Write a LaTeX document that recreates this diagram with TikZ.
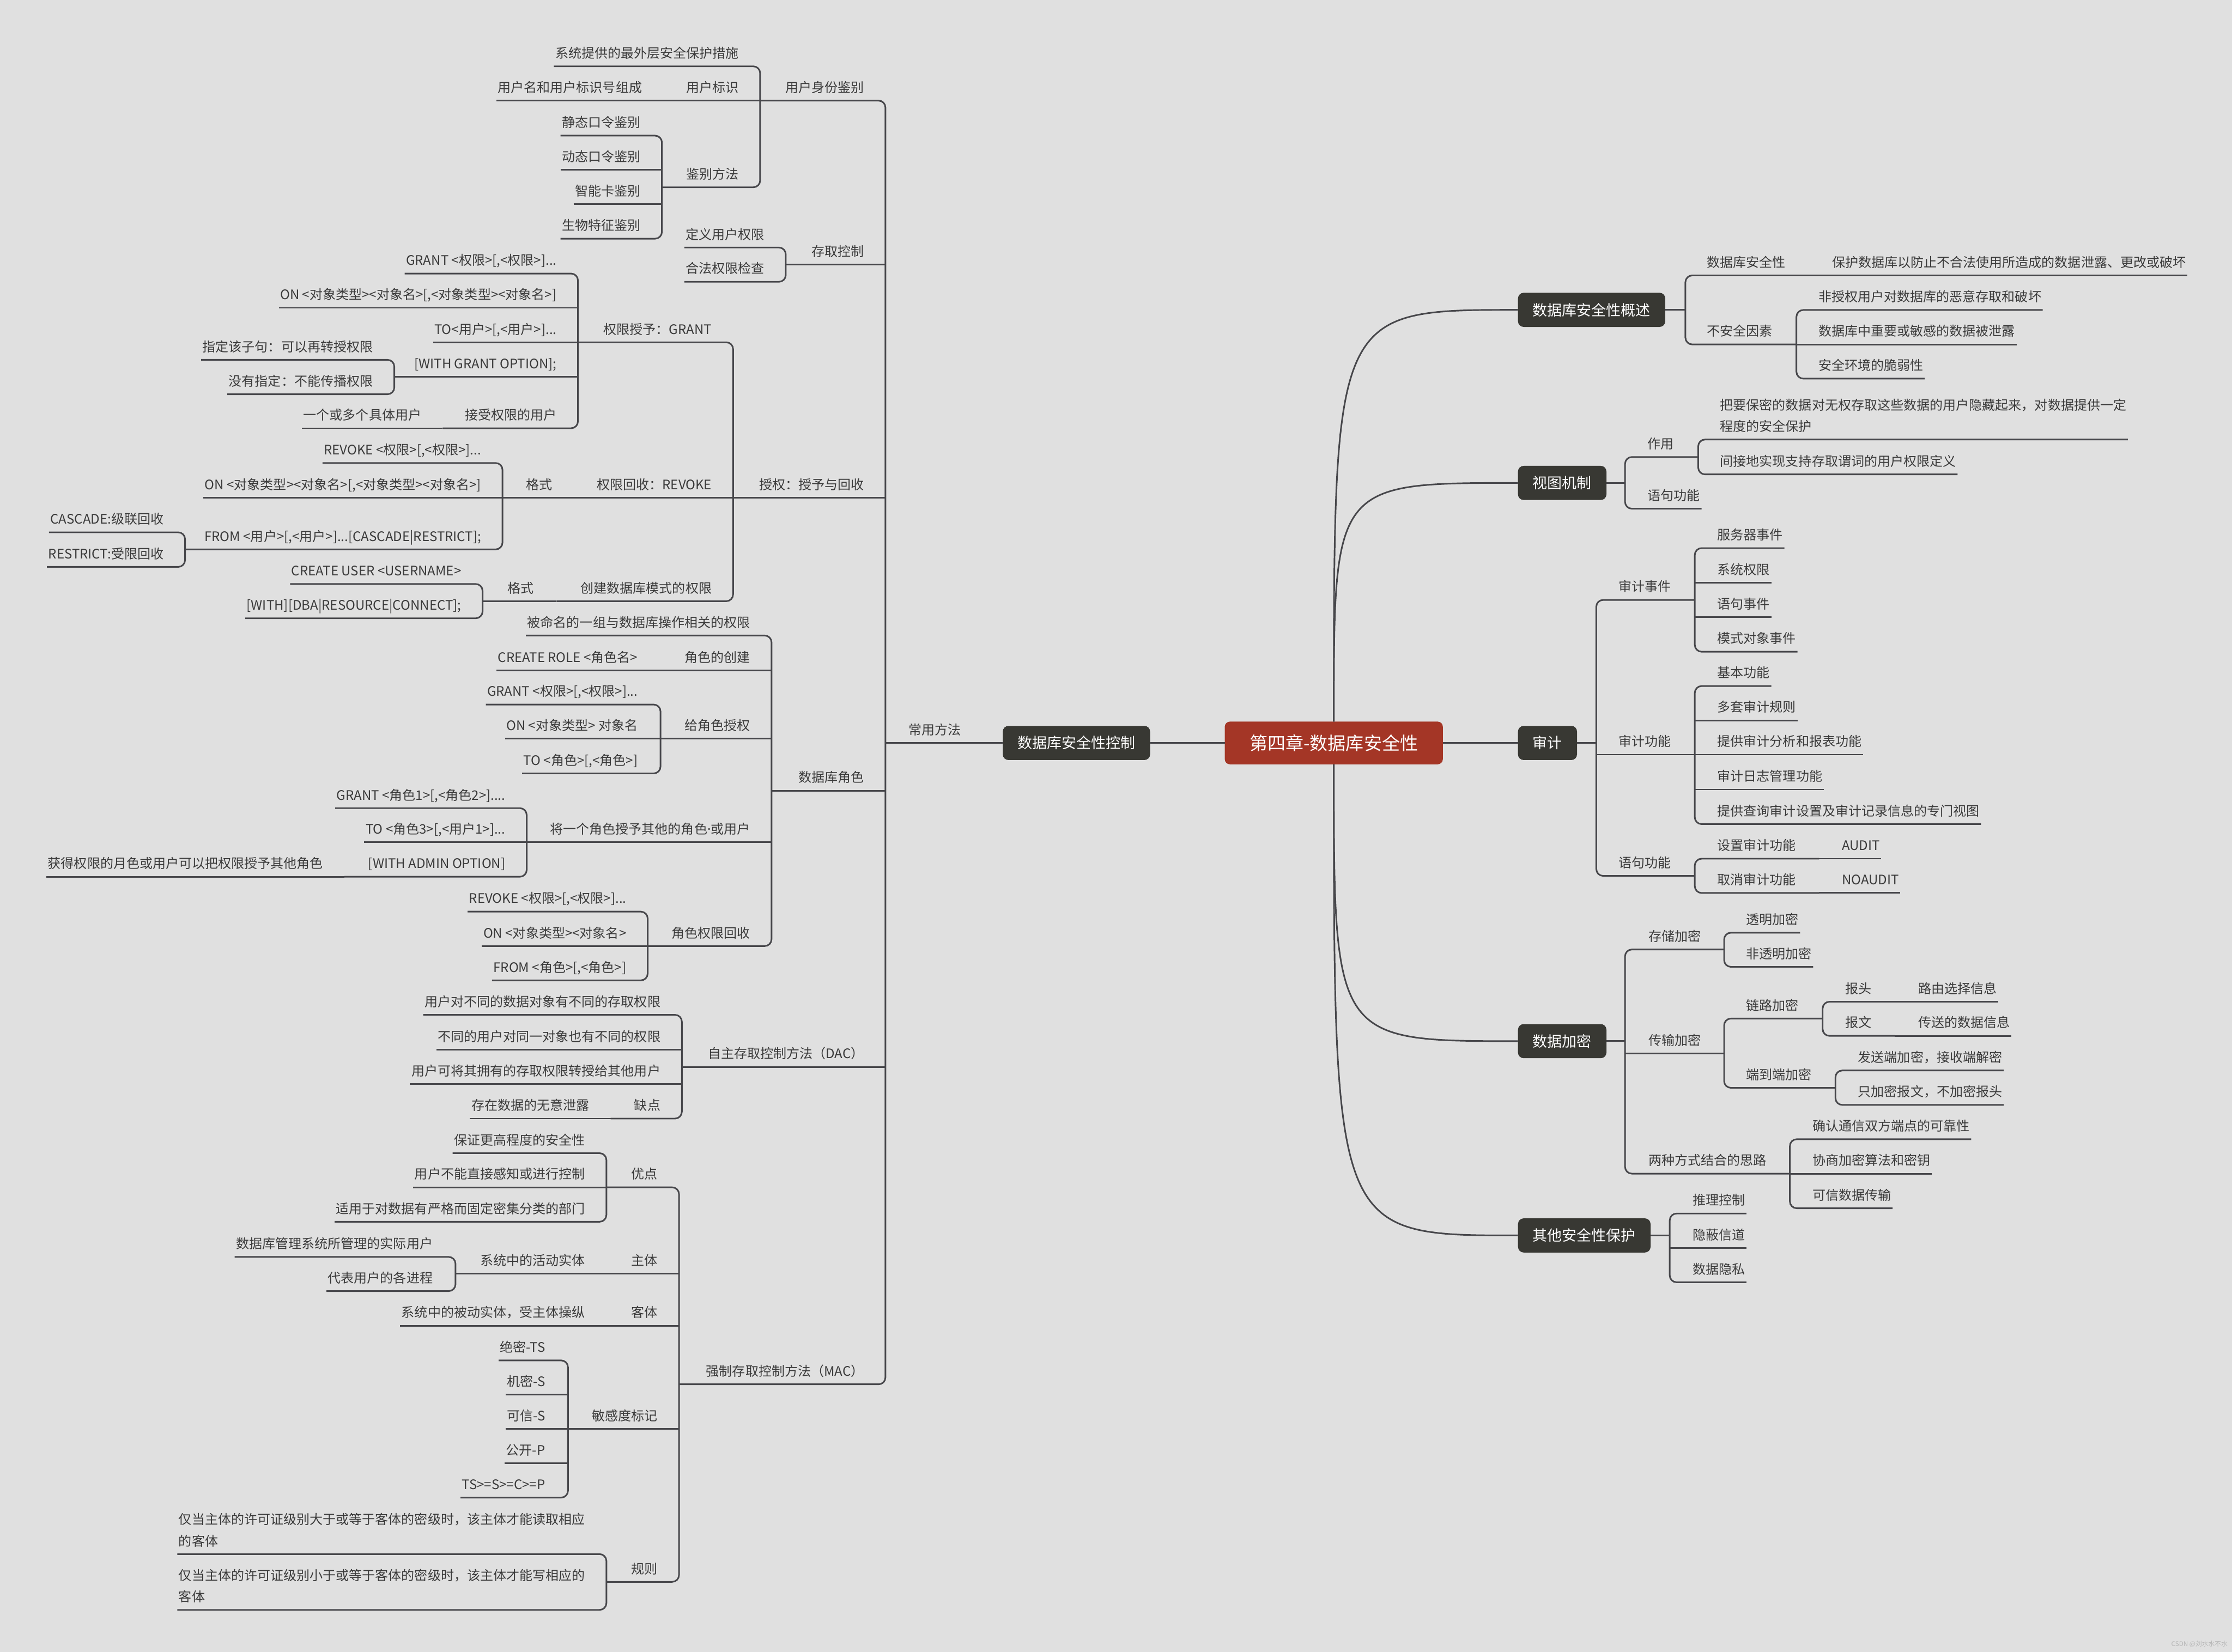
\documentclass[tikz,border=0pt]{standalone}
\usepackage{fontspec}
\setmainfont{Noto Sans CJK SC}
\newfontfamily\latinfont{Noto Sans}
\usepackage{xcolor}

\definecolor{bggray}{HTML}{E0E0E0}
\definecolor{linegray}{HTML}{47474B}
\definecolor{inkgray}{HTML}{3A3A3A}
\definecolor{topicgray}{HTML}{383833}
\definecolor{titlered}{HTML}{A43626}
\definecolor{wmgray}{HTML}{B5B5B5}

\begin{document}
\begin{tikzpicture}[
    x=0.05cm, y=-0.05cm,
    title/.style={rectangle, fill=titlered, rounded corners=0.18cm, text=white, font=\fontsize{18}{20}\selectfont, minimum height=1.5cm, minimum width=7.66cm, inner sep=0pt, outer sep=0pt},
    topic/.style={rectangle, fill=topicgray, rounded corners=0.2cm, text=white, font=\fontsize{14.7}{17}\selectfont, minimum height=1.2cm, inner xsep=0.52cm, inner ysep=0pt, outer sep=0pt},
    lt/.style={anchor=south east, text=inkgray, font=\fontsize{13.1}{21.3}\selectfont, inner xsep=0.05cm, inner ysep=0pt, outer sep=0pt, text height=10pt, text depth=8.3pt},
    rt/.style={lt, anchor=south west},
    br/.style={draw=linegray, line width=1.6pt, rounded corners=0.24cm},
    lk/.style={draw=linegray, line width=1.6pt}
]
    \useasboundingbox (0,0) rectangle (1568,1160.6);
    \fill[bggray] (0,0) rectangle (1568,1160.6);

    % Centre and main topics
    \node[title] (root) at (937,522) {第四章-数据库安全性};
    \node[topic] (ctrl) at (756.2,522) {数据库安全性控制};
    \node[topic, anchor=west] (ov) at (1066.4,217.7) {数据库安全性概述};
    \node[topic, anchor=west] (view) at (1066.4,339.3) {视图机制};
    \node[topic, anchor=west] (audit) at (1066.4,522) {审计};
    \node[topic, anchor=west] (enc) at (1066.4,731.5) {数据加密};
    \node[topic, anchor=west] (other) at (1066.4,868) {其他安全性保护};

    \draw[lk] (root.west) -- (ctrl.east);
    \draw[lk] (root.east) -- (audit.west);
    \draw[lk] (root.north) .. controls (root.north |- ov.west) .. (ov.west);
    \draw[lk] (root.north) .. controls (root.north |- view.west) .. (view.west);
    \draw[lk] (root.south) .. controls (root.south |- enc.west) .. (enc.west);
    \draw[lk] (root.south) .. controls (root.south |- other.west) .. (other.west);

    % Left: common methods
    \node[lt] (cyff) at (676,522) {常用方法};
    \coordinate (bcyff) at (622,522);
    \node[lt] (sfjb) at (608,70.7) {用户身份鉴别};
    \node[lt] (cqkz) at (608,185.8) {存取控制};
    \node[lt] (sq) at (608,349.6) {授权：授予与回收};
    \node[lt] (role) at (608,555.5) {数据库角色};
    \node[lt] (dac) at (608,749.6) {自主存取控制方法（DAC）};
    \node[lt] (mac) at (608,972.6) {强制存取控制方法（MAC）};
    \coordinate (bsfjb) at (534,70.7);
    \coordinate (bcqkz) at (552,185.8);
    \coordinate (bsq) at (515,349.6);
    \coordinate (brole) at (542,555.5);
    \coordinate (bdac) at (479,749.6);
    \coordinate (bmac) at (477,972.6);

    \draw[br] (bcyff) -- (ctrl.west);
    \draw[br] (bsfjb) -- (bcyff |- sfjb.south) -- (bcyff |- mac.south) -- (bmac);
    \draw[br] (bcqkz) -- (bcyff |- cqkz.south);
    \draw[br] (bsq) -- (bcyff |- sq.south);
    \draw[br] (brole) -- (bcyff |- role.south);
    \draw[br] (bdac) -- (bcyff |- dac.south);

    % User identification
    \node[lt] (xtbh) at (520,46.6) {系统提供的最外层安全保护措施};
    \node[lt] (yhbs) at (520,70.7) {用户标识};
    \node[lt] (jbff) at (520,131.6) {鉴别方法};
    \coordinate (byhbs) at (466,70.7);
    \coordinate (bjbff) at (465,131.6);
    \node[lt] (yhzc) at (452,70.7) {用户名和用户标识号组成};
    \node[lt] (jtkl) at (451,95.3) {静态口令鉴别};
    \node[lt] (dtkl) at (451,119.4) {动态口令鉴别};
    \node[lt] (znk) at (451,143.5) {智能卡鉴别};
    \node[lt] (swtz) at (451,167.7) {生物特征鉴别};

    \draw[br] (xtbh.south west) -- (bsfjb |- xtbh.south) -- (bsfjb |- jbff.south) -- (bjbff);
    \draw[br] (byhbs) -- (bsfjb);
    \draw[br] (yhzc.south west) -- (byhbs);
    \draw[br] (jtkl.south west) -- (bjbff |- jtkl.south) -- (bjbff |- swtz.south) -- (swtz.south west);
    \draw[br] (dtkl.south west) -- (bjbff |- dtkl.south);
    \draw[br] (znk.south west) -- (bjbff |- znk.south);

    % Access control
    \node[lt] (dyqx) at (538,173.9) {定义用户权限};
    \node[lt] (hfjc) at (538,198) {合法权限检查};
    \draw[br] (dyqx.south west) -- (bcqkz |- dyqx.south) -- (bcqkz |- hfjc.south) -- (hfjc.south west);

    % Grant and revoke
    \node[lt] (grant) at (501,240.5) {权限授予：GRANT};
    \node[lt] (revoke) at (501,349.6) {权限回收：REVOKE};
    \node[lt] (cjms) at (501,422.4) {创建数据库模式的权限};
    \coordinate (bgrant) at (406,240.5);
    \coordinate (brevoke) at (404,349.6);
    \coordinate (bcjms) at (391,422.4);
    \draw[br] (bgrant) -- (bsq |- grant.south) -- (bsq |- cjms.south) -- (bcjms);
    \draw[br] (brevoke) -- (bsq);

    \node[lt] (g1) at (392,192.2) {GRANT <权限>[,<权限>]...};
    \node[lt] (g2) at (392,216.3) {ON <对象类型><对象名>[,<对象类型><对象名>]};
    \node[lt] (g3) at (392,240.5) {TO<用户>[,<用户>]...};
    \node[lt] (g4) at (392,264.7) {[WITH GRANT OPTION];};
    \node[lt] (g5) at (392,300.9) {接受权限的用户};
    \coordinate (bg4) at (277,264.7);
    \coordinate (bg5) at (311,300.9);
    \node[lt] (g4a) at (263,252.8) {指定该子句：可以再转授权限};
    \node[lt] (g4b) at (263,277) {没有指定：不能传播权限};
    \node[lt] (g5a) at (297,300.9) {一个或多个具体用户};

    \draw[br] (g1.south west) -- (bgrant |- g1.south) -- (bgrant |- g5.south) -- (bg5);
    \draw[br] (g2.south west) -- (bgrant |- g2.south);
    \draw[br] (g3.south west) -- (bgrant);
    \draw[br] (bg4) -- (bgrant |- g4.south);
    \draw[br] (g4a.south west) -- (bg4 |- g4a.south) -- (bg4 |- g4b.south) -- (g4b.south west);
    \draw[br] (g5a.south west) -- (bg5);

    \node[lt] (rfmt) at (389,349.6) {格式};
    \coordinate (brfmt) at (353,349.6);
    \node[lt] (r1) at (339,325.3) {REVOKE <权限>[,<权限>]...};
    \node[lt] (r2) at (339,349.6) {ON <对象类型><对象名>[,<对象类型><对象名>]};
    \node[lt] (r3) at (339,386) {FROM <用户>[,<用户>]...[CASCADE|RESTRICT];};
    \coordinate (br3) at (130,386);
    \node[lt] (r3a) at (116,374) {CASCADE:级联回收};
    \node[lt] (r3b) at (116,398.3) {RESTRICT:受限回收};

    \draw[br] (brfmt) -- (brevoke);
    \draw[br] (r1.south west) -- (brfmt |- r1.south) -- (brfmt |- r3.south) -- (br3);
    \draw[br] (r2.south west) -- (brfmt);
    \draw[br] (r3a.south west) -- (br3 |- r3a.south) -- (br3 |- r3b.south) -- (r3b.south west);

    \node[lt] (cfmt) at (376,422.4) {格式};
    \coordinate (bcfmt) at (339,422.4);
    \node[lt] (cu1) at (325,410.3) {CREATE USER <USERNAME>};
    \node[lt] (cu2) at (325,434.4) {[WITH][DBA|RESOURCE|CONNECT];};
    \draw[br] (bcfmt) -- (bcjms);
    \draw[br] (cu1.south west) -- (bcfmt |- cu1.south) -- (bcfmt |- cu2.south) -- (cu2.south west);

    % Database roles
    \node[lt] (rl1) at (528,446.5) {被命名的一组与数据库操作相关的权限};
    \node[lt] (rl2) at (528,471) {角色的创建};
    \node[lt] (rl3) at (528,519) {给角色授权};
    \node[lt] (rl4) at (528,591.8) {将一个角色授予其他的角色{\latinfont ·}或用户};
    \node[lt] (rl5) at (528,664.7) {角色权限回收};
    \coordinate (brl2) at (464,471);
    \coordinate (brl3) at (464,519);
    \coordinate (brl4) at (370,591.8);
    \coordinate (brl5) at (455,664.7);
    \draw[br] (rl1.south west) -- (brole |- rl1.south) -- (brole |- rl5.south) -- (brl5);
    \draw[br] (brl2) -- (brole |- rl2.south);
    \draw[br] (brl3) -- (brole |- rl3.south);
    \draw[br] (brl4) -- (brole |- rl4.south);

    \node[lt] (cr) at (449,471) {CREATE ROLE <角色名>};
    \node[lt] (rg1) at (449,495) {GRANT <权限>[,<权限>]...};
    \node[lt] (rg2) at (449,519) {ON <对象类型> 对象名};
    \node[lt] (rg3) at (449,543.4) {TO <角色>[,<角色>]};
    \node[lt] (ra1) at (356,567.8) {GRANT <角色1>[,<角色2>]....};
    \node[lt] (ra2) at (356,591.8) {TO <角色3>[,<用户1>]...};
    \node[lt] (ra3) at (356,616) {[WITH ADMIN OPTION]};
    \coordinate (bra3) at (242,616);
    \node[lt] (ra3a) at (228,616) {获得权限的月色或用户可以把权限授予其他角色};
    \node[lt] (rr1) at (441,640.5) {REVOKE <权限>[,<权限>]...};
    \node[lt] (rr2) at (441,664.7) {ON <对象类型><对象名>};
    \node[lt] (rr3) at (441,688.8) {FROM <角色>[,<角色>]};

    \draw[br] (cr.south west) -- (brl2);
    \draw[br] (rg1.south west) -- (brl3 |- rg1.south) -- (brl3 |- rg3.south) -- (rg3.south west);
    \draw[br] (rg2.south west) -- (brl3);
    \draw[br] (ra1.south west) -- (brl4 |- ra1.south) -- (brl4 |- ra3.south) -- (bra3);
    \draw[br] (ra2.south west) -- (brl4);
    \draw[br] (ra3a.south west) -- (bra3);
    \draw[br] (rr1.south west) -- (brl5 |- rr1.south) -- (brl5 |- rr3.south) -- (rr3.south west);
    \draw[br] (rr2.south west) -- (brl5);

    % DAC
    \node[lt] (d1) at (465,713) {用户对不同的数据对象有不同的存取权限};
    \node[lt] (d2) at (465,737.4) {不同的用户对同一对象也有不同的权限};
    \node[lt] (d3) at (465,761.7) {用户可将其拥有的存取权限转授给其他用户};
    \node[lt] (d4) at (465,785.9) {缺点};
    \coordinate (bd4) at (429,785.9);
    \node[lt] (d4a) at (415,785.9) {存在数据的无意泄露};
    \draw[br] (d1.south west) -- (bdac |- d1.south) -- (bdac |- d4.south) -- (bd4);
    \draw[br] (d2.south west) -- (bdac |- d2.south);
    \draw[br] (d3.south west) -- (bdac |- d3.south);
    \draw[br] (d4a.south west) -- (bd4);

    % MAC
    \node[lt] (m1) at (463,834.2) {优点};
    \node[lt] (m2) at (463,894.8) {主体};
    \node[lt] (m3) at (463,931.4) {客体};
    \node[lt] (m4) at (463,1003.9) {敏感度标记};
    \node[lt] (m5) at (463,1111.4) {规则};
    \coordinate (bm1) at (426,834.2);
    \coordinate (bm2) at (427,894.8);
    \coordinate (bm3) at (427,931.4);
    \coordinate (bm4) at (399,1003.9);
    \coordinate (bm5) at (426,1111.4);
    \draw[br] (bm1) -- (bmac |- m1.south) -- (bmac |- m5.south) -- (bm5);
    \draw[br] (bm2) -- (bmac |- m2.south);
    \draw[br] (bm3) -- (bmac |- m3.south);
    \draw[br] (bm4) -- (bmac |- m4.south);

    \node[lt] (m1a) at (412,810.2) {保证更高程度的安全性};
    \node[lt] (m1b) at (412,834.2) {用户不能直接感知或进行控制};
    \node[lt] (m1c) at (412,858.4) {适用于对数据有严格而固定密集分类的部门};
    \node[lt] (m2a) at (412,894.8) {系统中的活动实体};
    \coordinate (bm2a) at (320,894.8);
    \node[lt] (m2a1) at (305,883.1) {数据库管理系统所管理的实际用户};
    \node[lt] (m2a2) at (305,907.1) {代表用户的各进程};
    \node[lt] (m3a) at (412,931.4) {系统中的被动实体，受主体操纵};
    \node[lt] (m4a) at (384,955.8) {绝密-TS};
    \node[lt] (m4b) at (384,979.9) {机密-S};
    \node[lt] (m4c) at (384,1003.9) {可信-S};
    \node[lt] (m4d) at (384,1028.1) {公开-P};
    \node[lt] (m4e) at (384,1052.2) {TS>=S>=C>=P};
    \node[lt, align=left] (m5a) at (412,1091.9) {仅当主体的许可证级别大于或等于客体的密级时，该主体才能读取相应\\的客体};
    \node[lt, align=left] (m5b) at (412,1131.1) {仅当主体的许可证级别小于或等于客体的密级时，该主体才能写相应的\\客体};

    \draw[br] (m1a.south west) -- (bm1 |- m1a.south) -- (bm1 |- m1c.south) -- (m1c.south west);
    \draw[br] (m1b.south west) -- (bm1);
    \draw[br] (bm2a) -- (bm2);
    \draw[br] (m2a1.south west) -- (bm2a |- m2a1.south) -- (bm2a |- m2a2.south) -- (m2a2.south west);
    \draw[br] (m3a.south west) -- (bm3);
    \draw[br] (m4a.south west) -- (bm4 |- m4a.south) -- (bm4 |- m4e.south) -- (m4e.south west);
    \draw[br] (m4b.south west) -- (bm4 |- m4b.south);
    \draw[br] (m4c.south west) -- (bm4);
    \draw[br] (m4d.south west) -- (bm4 |- m4d.south);
    \draw[br] (m5a.south west) -- (bm5 |- m5a.south) -- (bm5 |- m5b.south) -- (m5b.south west);

    % Right: overview
    \coordinate (bov) at (1184,217.7);
    \node[rt] (o1) at (1198,193.5) {数据库安全性};
    \node[rt] (o2) at (1198,242) {不安全因素};
    \coordinate (bo1) at (1271,193.5);
    \coordinate (bo2) at (1262,242);
    \node[rt] (o1a) at (1286,193.5) {保护数据库以防止不合法使用所造成的数据泄露、更改或破坏};
    \node[rt] (o2a) at (1276.5,217.8) {非授权用户对数据库的恶意存取和破坏};
    \node[rt] (o2b) at (1276.5,242) {数据库中重要或敏感的数据被泄露};
    \node[rt] (o2c) at (1276.5,266) {安全环境的脆弱性};

    \draw[br] (ov.east) -- (bov);
    \draw[br] (bo1) -- (bov |- o1.south) -- (bov |- o2.south) -- (bo2);
    \draw[br] (bo1) -- (o1a.south east);
    \draw[br] (o2a.south east) -- (bo2 |- o2a.south) -- (bo2 |- o2c.south) -- (o2c.south east);
    \draw[br] (o2b.south east) -- (bo2);

    % View mechanism
    \coordinate (bview) at (1141.6,339.3);
    \node[rt] (v1) at (1156.5,321.1) {作用};
    \node[rt] (v2) at (1156.5,357.4) {语句功能};
    \coordinate (bv1) at (1193,321.1);
    \node[rt, align=left] (v1a) at (1207.4,308.8) {把要保密的数据对无权存取这些数据的用户隐藏起来，对数据提供一定\\程度的安全保护};
    \node[rt] (v1b) at (1207.4,333.3) {间接地实现支持存取谓词的用户权限定义};

    \draw[br] (view.east) -- (bview);
    \draw[br] (bv1) -- (bview |- v1.south) -- (bview |- v2.south) -- (v2.south east);
    \draw[br] (v1a.south east) -- (bv1 |- v1a.south) -- (bv1 |- v1b.south) -- (v1b.south east);

    % Audit
    \coordinate (baudit) at (1121.4,522);
    \node[rt] (a1) at (1136.2,421.5) {审计事件};
    \node[rt] (a2) at (1136.2,530.2) {审计功能};
    \node[rt] (a3) at (1136.2,615.4) {语句功能};
    \coordinate (ba1) at (1190.6,421.5);
    \coordinate (ba2) at (1190.6,530.2);
    \coordinate (ba3) at (1190.6,615.4);
    \node[rt] (a1a) at (1205.5,385.1) {服务器事件};
    \node[rt] (a1b) at (1205.5,409.4) {系统权限};
    \node[rt] (a1c) at (1205.5,433.6) {语句事件};
    \node[rt] (a1d) at (1205.5,457.9) {模式对象事件};
    \node[rt] (a2a) at (1205.5,482) {基本功能};
    \node[rt] (a2b) at (1205.5,506.1) {多套审计规则};
    \node[rt] (a2c) at (1205.5,530.2) {提供审计分析和报表功能};
    \node[rt] (a2d) at (1205.5,554.7) {审计日志管理功能};
    \node[rt] (a2e) at (1205.5,579) {提供查询审计设置及审计记录信息的专门视图};
    \node[rt] (a3a) at (1205.5,603.3) {设置审计功能};
    \node[rt] (a3b) at (1205.5,627.4) {取消审计功能};
    \coordinate (ba3a) at (1278,603.3);
    \coordinate (ba3b) at (1278,627.4);
    \node[rt] (a3a1) at (1293,603.3) {AUDIT};
    \node[rt] (a3b1) at (1293,627.4) {NOAUDIT};

    \draw[br] (audit.east) -- (baudit);
    \draw[br] (ba1) -- (baudit |- a1.south) -- (baudit |- a3.south) -- (ba3);
    \draw[br] (ba2) -- (baudit |- a2.south);
    \draw[br] (a1a.south east) -- (ba1 |- a1a.south) -- (ba1 |- a1d.south) -- (a1d.south east);
    \draw[br] (a1b.south east) -- (ba1 |- a1b.south);
    \draw[br] (a1c.south east) -- (ba1 |- a1c.south);
    \draw[br] (a2a.south east) -- (ba2 |- a2a.south) -- (ba2 |- a2e.south) -- (a2e.south east);
    \draw[br] (a2b.south east) -- (ba2 |- a2b.south);
    \draw[br] (a2c.south east) -- (ba2);
    \draw[br] (a2d.south east) -- (ba2 |- a2d.south);
    \draw[br] (ba3a) -- (ba3 |- a3a.south) -- (ba3 |- a3b.south) -- (ba3b);
    \draw[br] (ba3a) -- (a3a1.south east);
    \draw[br] (ba3b) -- (a3b1.south east);

    % Encryption
    \coordinate (benc) at (1141.6,731.5);
    \node[rt] (e1) at (1157,667.1) {存储加密};
    \node[rt] (e2) at (1157,740.1) {传输加密};
    \node[rt] (e3) at (1157,824.6) {两种方式结合的思路};
    \coordinate (be1) at (1211.2,667.1);
    \coordinate (be2) at (1211.2,740.1);
    \coordinate (be3) at (1257.4,824.6);
    \node[rt] (e1a) at (1225.7,655.3) {透明加密};
    \node[rt] (e1b) at (1225.7,679.3) {非透明加密};
    \node[rt] (e2a) at (1225.7,715.6) {链路加密};
    \node[rt] (e2b) at (1225.7,764.3) {端到端加密};
    \coordinate (be2a) at (1280.4,715.6);
    \coordinate (be2b) at (1289.4,764.3);
    \node[rt] (bt) at (1295.2,703.8) {报头};
    \node[rt] (bw) at (1295.2,727.8) {报文};
    \coordinate (bbt) at (1331,703.8);
    \coordinate (bbw) at (1331,727.8);
    \node[rt] (bt1) at (1346.5,703.8) {路由选择信息};
    \node[rt] (bw1) at (1346.5,727.8) {传送的数据信息};
    \node[rt] (e2b1) at (1304.3,752.1) {发送端加密，接收端解密};
    \node[rt] (e2b2) at (1304.3,776.3) {只加密报文，不加密报头};
    \node[rt] (e3a) at (1272.3,800.4) {确认通信双方端点的可靠性};
    \node[rt] (e3b) at (1272.3,824.6) {协商加密算法和密钥};
    \node[rt] (e3c) at (1272.3,848.9) {可信数据传输};

    \draw[br] (enc.east) -- (benc);
    \draw[br] (be1) -- (benc |- e1.south) -- (benc |- e3.south) -- (be3);
    \draw[br] (be2) -- (benc |- e2.south);
    \draw[br] (e1a.south east) -- (be1 |- e1a.south) -- (be1 |- e1b.south) -- (e1b.south east);
    \draw[br] (be2a) -- (be2 |- e2a.south) -- (be2 |- e2b.south) -- (be2b);
    \draw[br] (bbt) -- (be2a |- bt.south) -- (be2a |- bw.south) -- (bbw);
    \draw[br] (bbt) -- (bt1.south east);
    \draw[br] (bbw) -- (bw1.south east);
    \draw[br] (e2b1.south east) -- (be2b |- e2b1.south) -- (be2b |- e2b2.south) -- (e2b2.south east);
    \draw[br] (e3a.south east) -- (be3 |- e3a.south) -- (be3 |- e3c.south) -- (e3c.south east);
    \draw[br] (e3b.south east) -- (be3);

    % Other protection
    \coordinate (bother) at (1173,868);
    \node[rt] (p1) at (1188,852.6) {推理控制};
    \node[rt] (p2) at (1188,876.9) {隐蔽信道};
    \node[rt] (p3) at (1188,900.9) {数据隐私};
    \draw[br] (other.east) -- (bother);
    \draw[br] (p1.south east) -- (bother |- p1.south) -- (bother |- p3.south) -- (p3.south east);
    \draw[br] (p2.south east) -- (bother |- p2.south);

    % Watermark
    \node[anchor=east, text=wmgray, font=\fontsize{6.4}{7}\selectfont, inner sep=0pt] (wm) at (1565,1155) {CSDN @刘水水不水};

\end{tikzpicture}
\end{document}
